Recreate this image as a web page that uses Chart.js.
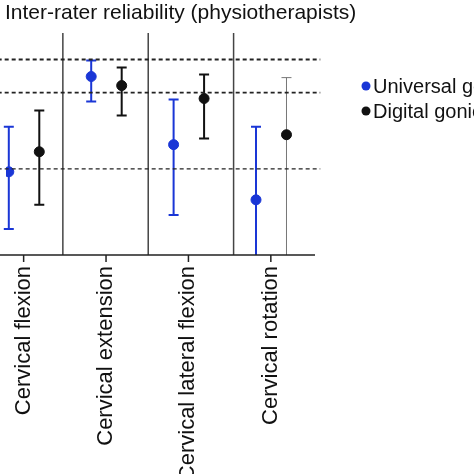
<!DOCTYPE html>
<html><head><meta charset="utf-8">
<script src="https://cdn.jsdelivr.net/npm/chart.js@4"></script>
<style>html,body{margin:0;padding:0;background:#fff}#c{display:block}</style>
</head><body>
<canvas id="c" width="474" height="474"></canvas>
<script>
// categories and series
var categories = ["Cervical flexion", "Cervical extension", "Cervical lateral flexion", "Cervical rotation"];
var universalMean = [0.386, 0.828, 0.512, 0.256];
var universalLow  = [0.121, 0.712, 0.186, 0.0];
var universalHigh = [0.595, 0.902, 0.721, 0.595];
var digitalMean = [0.479, 0.786, 0.726, 0.558];
var digitalLow  = [0.233, 0.647, 0.540, 0.0];
var digitalHigh = [0.670, 0.870, 0.837, 0.823];
var thresholds = [0.907, 0.753, 0.4];
var separators = [0.476, 1.512, 2.548];
var legendLabels = ["Universal goniometer", "Digital goniometer"];

var BLUE = "#1a36d6", BLACK = "#111";
var FONT = "Liberation Sans, Arial, sans-serif";

function pts(means, off) {
  return means.map(function(v, i) { return {x: i + off, y: v}; });
}

var datasets = [];
thresholds.forEach(function(t, i) {
  datasets.push({type: "line", data: [{x: -0.4, y: t}, {x: 3.6, y: t}], borderColor: "#222",
    borderWidth: i == 2 ? 1.2 : 1.8, borderDash: [4, 3], pointRadius: 0, clip: false});
});
separators.forEach(function(s) {
  datasets.push({type: "line", data: [{x: s, y: 0}, {x: s, y: 1.03}], borderColor: "#444",
    borderWidth: 1.5, pointRadius: 0});
});
datasets.push({type: "scatter", data: pts(universalMean, -0.18), backgroundColor: BLUE, borderColor: BLUE, pointRadius: 5,
  lo: universalLow, hi: universalHigh, off: -0.18});
datasets.push({type: "scatter", data: pts(digitalMean, 0.19), backgroundColor: BLACK, borderColor: BLACK, pointRadius: 5,
  lo: digitalLow, hi: digitalHigh, off: 0.19});

var extras = {
  id: "extras",
  beforeDatasetsDraw: function(chart) {
    var ctx = chart.ctx, xs = chart.scales.x, ys = chart.scales.y;
    [datasets.length - 2, datasets.length - 1].forEach(function(di) {
      var ds = chart.data.datasets[di];
      ds.lo.forEach(function(lo, i) {
        var x = xs.getPixelForValue(i + ds.off);
        var y1 = ys.getPixelForValue(lo), y2 = ys.getPixelForValue(ds.hi[i]);
        var thin = (i == 3 && di == datasets.length - 1);
        ctx.save();
        ctx.strokeStyle = thin ? "#777" : ds.borderColor;
        ctx.lineWidth = thin ? 1 : 2;
        ctx.beginPath();
        ctx.moveTo(x, y1); ctx.lineTo(x, y2);
        ctx.moveTo(x - 5, y2); ctx.lineTo(x + 5, y2);
        if (lo > 0) { ctx.moveTo(x - 5, y1); ctx.lineTo(x + 5, y1); }
        ctx.stroke();
        ctx.restore();
      });
    });
  },
  afterDraw: function(chart) {
    var ctx = chart.ctx, xs = chart.scales.x, a = chart.chartArea;
    ctx.save();
    // x axis
    ctx.strokeStyle = "#222"; ctx.lineWidth = 1.5;
    ctx.beginPath();
    ctx.moveTo(0, a.bottom); ctx.lineTo(a.right, a.bottom);
    categories.forEach(function(c, i) {
      var x = xs.getPixelForValue(i);
      ctx.moveTo(x, a.bottom); ctx.lineTo(x, a.bottom + 7);
    });
    ctx.stroke();
    // category labels
    ctx.fillStyle = "#111";
    ctx.font = "22px " + FONT;
    ctx.textAlign = "right"; ctx.textBaseline = "middle";
    categories.forEach(function(c, i) {
      var x = xs.getPixelForValue(i);
      ctx.save();
      ctx.translate(x, a.bottom + 11);
      ctx.rotate(-Math.PI / 2);
      ctx.fillText(c, 0, 0);
      ctx.restore();
    });
    // title
    ctx.textAlign = "left"; ctx.textBaseline = "middle";
    ctx.font = "21px " + FONT;
    ctx.fillText("Inter-rater reliability (physiotherapists)", 5, 13);
    // legend
    ctx.font = "20px " + FONT;
    [BLUE, BLACK].forEach(function(col, i) {
      var y = 86 + i * 25;
      ctx.fillStyle = col;
      ctx.beginPath(); ctx.arc(366, y, 4.5, 0, Math.PI * 2); ctx.fill();
      ctx.fillStyle = "#111";
      ctx.fillText(legendLabels[i], 373, y + 1);
    });
    ctx.restore();
  }
};

new Chart(document.getElementById("c"), {
  type: "scatter",
  data: {datasets: datasets},
  options: {
    responsive: false, animation: false,
    layout: {padding: {left: 0, right: 159, top: 33, bottom: 219}},
    plugins: {legend: {display: false}, tooltip: {enabled: false}},
    scales: {
      x: {type: "linear", display: false, min: -0.214, max: 3.536},
      y: {display: false, min: 0, max: 1.03}
    }
  },
  plugins: [extras]
});
</script>
</body></html>
